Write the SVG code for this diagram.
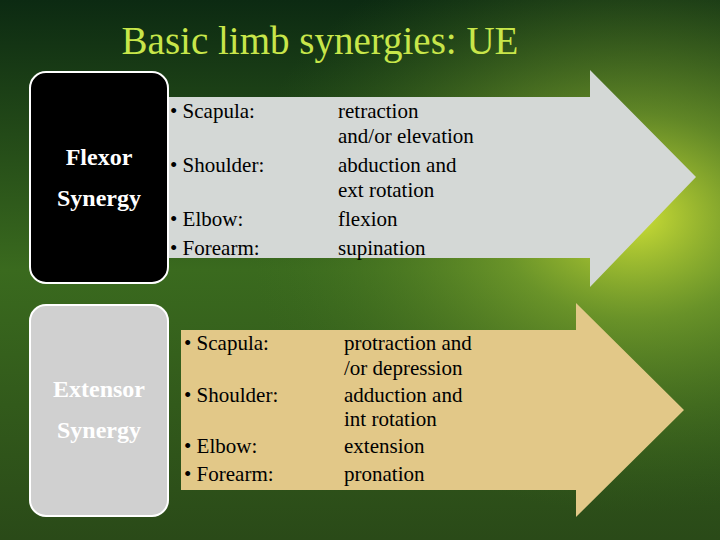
<svg xmlns="http://www.w3.org/2000/svg" width="720" height="540" viewBox="0 0 720 540">
<defs>
<linearGradient id="bg" x1="0" y1="0" x2="0" y2="1">
<stop offset="0" stop-color="#0c2a12"/><stop offset="0.5" stop-color="#3a6a1e"/><stop offset="1" stop-color="#2a4a18"/>
</linearGradient>
<radialGradient id="glow" cx="0.88" cy="0.4" r="0.55">
<stop offset="0" stop-color="#d8e838" stop-opacity="0.95"/><stop offset="0.35" stop-color="#8ab030" stop-opacity="0.6"/><stop offset="1" stop-color="#3a6a1e" stop-opacity="0"/>
</radialGradient>
<style>
text{font-family:"Liberation Serif","Times New Roman","DejaVu Serif",serif}
.t{font-size:21px;fill:#000}
.h{font-size:24px;font-weight:bold;text-anchor:middle;fill:#fff}
</style>
</defs>
<rect width="720" height="540" fill="url(#bg)"/>
<rect width="720" height="540" fill="url(#glow)"/>
<text x="320" y="54" text-anchor="middle" font-size="39" fill="#c8e64a">Basic limb synergies: UE</text>
<g id="connectors">
<polygon id="arrow1" points="168,97 590,97 590,70 696,177 590,287 590,258 168,258" fill="#d4d8d6"/>
<polygon id="arrow2" points="181,330 576,330 576,303 684,410 576,517 576,490 181,490" fill="#e2c888"/>
</g>
<g id="flexor">
<rect x="30" y="72" width="138" height="211" rx="16" fill="#000" stroke="#fff" stroke-width="2"/>
<text class="h" x="99" y="165">Flexor</text>
<text class="h" x="99" y="206">Synergy</text>
</g>
<g id="extensor">
<rect x="30" y="305" width="138" height="211" rx="16" fill="#d0d0d0" stroke="#fff" stroke-width="2"/>
<text class="h" x="99" y="397">Extensor</text>
<text class="h" x="99" y="438">Synergy</text>
</g>
<g id="flexor-list">
<text class="t" x="170" y="118">• Scapula:</text><text class="t" x="338" y="118">retraction</text>
<text class="t" x="338" y="143">and/or elevation</text>
<text class="t" x="170" y="172">• Shoulder:</text><text class="t" x="338" y="172">abduction and</text>
<text class="t" x="338" y="197">ext rotation</text>
<text class="t" x="170" y="226">• Elbow:</text><text class="t" x="338" y="226">flexion</text>
<text class="t" x="170" y="255">• Forearm:</text><text class="t" x="338" y="255">supination</text>
</g>
<g id="extensor-list">
<text class="t" x="184" y="350">• Scapula:</text><text class="t" x="344" y="350">protraction and</text>
<text class="t" x="344" y="375">/or  depression</text>
<text class="t" x="184" y="402">• Shoulder:</text><text class="t" x="344" y="402">adduction and</text>
<text class="t" x="344" y="426">int rotation</text>
<text class="t" x="184" y="453">• Elbow:</text><text class="t" x="344" y="453">extension</text>
<text class="t" x="184" y="481">• Forearm:</text><text class="t" x="344" y="481">pronation</text>
</g>
</svg>
